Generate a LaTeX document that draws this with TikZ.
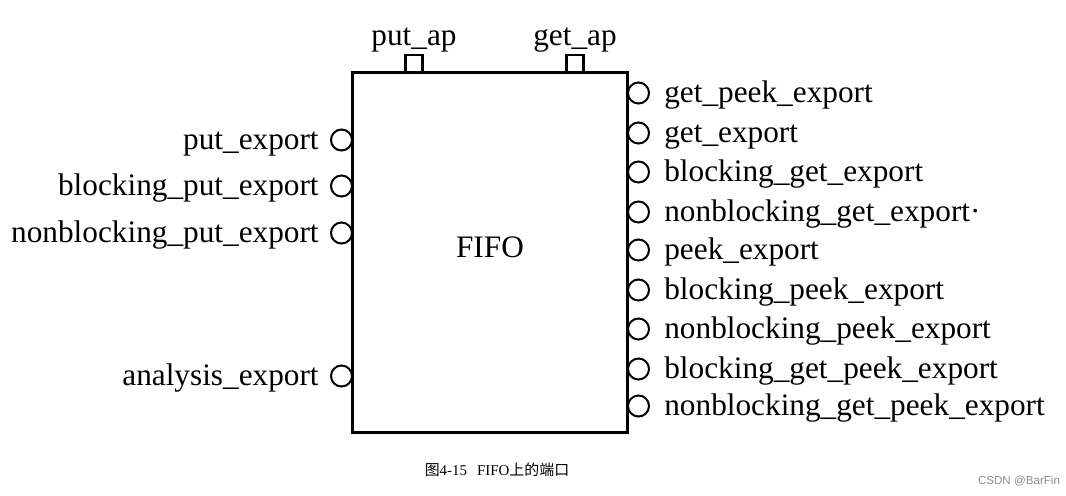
\documentclass[tikz,border=0pt]{standalone}
\usepackage{fontspec}
\setmainfont{Liberation Serif}
\setsansfont{Liberation Sans}
\newfontfamily\cjk{Noto Sans CJK SC}
\usetikzlibrary{positioning}

\tikzset{
  block/.style={draw, line width=0.06cm, minimum width=5.52cm, minimum height=7.22cm, inner sep=0pt},
  port/.style={draw, circle, line width=0.04cm, minimum size=0.42cm, inner sep=0pt},
  apport/.style={draw, rectangle, line width=0.045cm, minimum width=0.34cm, minimum height=0.34cm, inner sep=0pt},
  lbl/.style={inner sep=0pt, text height=0.7em, text depth=0.22em, yshift=-0.1cm},
}

\begin{document}
\begin{tikzpicture}[x=0.02cm, y=-0.02cm, font=\fontsize{17.8}{21}\selectfont]
    \useasboundingbox (0,0) rectangle (1066,495);
    \node[block] (fifo) at (490,252.5) {\raisebox{0.2cm}{FIFO}};
    % top access ports
    \node[apport] (putap) at (414,63.5) {};
    \node[apport] (getap) at (575,63.5) {};
    \node[lbl, above=0.18cm of putap] (putapl) {put\_ap};
    \node[lbl, above=0.18cm of getap] (getapl) {get\_ap};
    % left exports
    \node[port] (put) at (341.5,140) {};
    \node[port] (bput) at (341.5,186) {};
    \node[port] (nbput) at (341.5,233) {};
    \node[port] (ana) at (341.5,376) {};
    \node[lbl, left=0.22cm of put] (putl) {put\_export};
    \node[lbl, left=0.22cm of bput] (bputl) {blocking\_put\_export};
    \node[lbl, left=0.22cm of nbput] (nbputl) {nonblocking\_put\_export};
    \node[lbl, left=0.22cm of ana] (anal) {analysis\_export};
    % right exports
    \node[port] (gpeek) at (638.5,93) {};
    \node[port] (get) at (638.5,133) {};
    \node[port] (bget) at (638.5,172) {};
    \node[port] (nbget) at (638.5,212) {};
    \node[port] (peek) at (638.5,250) {};
    \node[port] (bpeek) at (638.5,290) {};
    \node[port] (nbpeek) at (638.5,329) {};
    \node[port] (bgpeek) at (638.5,369) {};
    \node[port] (nbgpeek) at (638.5,406) {};
    \node[lbl, right=0.28cm of gpeek] (gpeekl) {get\_peek\_export};
    \node[lbl, right=0.28cm of get] (getl) {get\_export};
    \node[lbl, right=0.28cm of bget] (bgetl) {blocking\_get\_export};
    \node[lbl, right=0.28cm of nbget] (nbgetl) {nonblocking\_get\_export·};
    \node[lbl, right=0.28cm of peek] (peekl) {peek\_export};
    \node[lbl, right=0.28cm of bpeek] (bpeekl) {blocking\_peek\_export};
    \node[lbl, right=0.28cm of nbpeek] (nbpeekl) {nonblocking\_peek\_export};
    \node[lbl, right=0.28cm of bgpeek] (bgpeekl) {blocking\_get\_peek\_export};
    \node[lbl, right=0.28cm of nbgpeek] (nbgpeekl) {nonblocking\_get\_peek\_export};
    % caption and mark
    \node[font=\fontsize{8.5}{10}\selectfont] (cap) at (497,470) {{\cjk 图}4-15\hspace{0.2cm}FIFO{\cjk 上的端口}};
    \node[font=\sffamily\fontsize{6.6}{8}\selectfont, text=black!45] (mark) at (1019,481) {CSDN @BarFin};
  \end{tikzpicture}
\end{document}
